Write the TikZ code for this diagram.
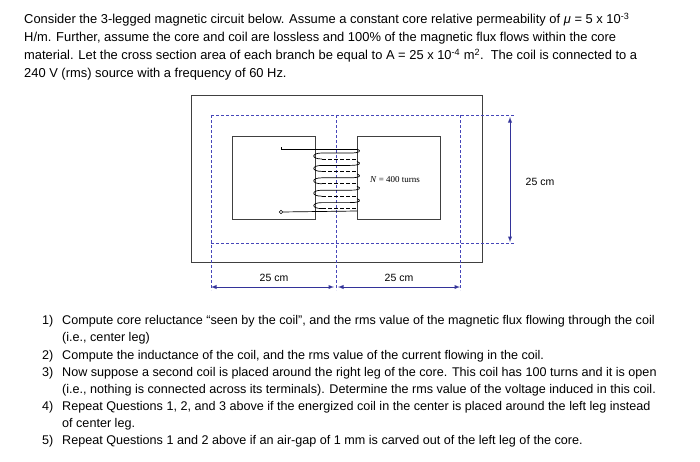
\documentclass[tikz,border=0pt]{standalone}
\usepackage{fontspec}
\setmainfont{Liberation Sans}
\newfontfamily\serifc{Liberation Serif}
\begin{document}
\begin{tikzpicture}[x=1pt,y=-1pt,
  txt/.style={anchor=west,inner sep=0pt,font=\fontsize{12.9}{15}\selectfont},
  qtxt/.style={anchor=west,inner sep=0pt,font=\fontsize{12.6}{15}\selectfont},
  core/.style={draw=black!75,line width=0.7pt},
  mean/.style={draw=blue!45!gray,dashed,dash pattern=on 3pt off 2pt,line width=0.6pt},
  dim/.style={draw=blue!50!gray!80!black,line width=0.9pt,-latex},
  lab/.style={font=\fontsize{10.5}{12}\selectfont}]
\useasboundingbox (0,0) rectangle (700,461);
\node[txt] (l1) at (24,20) {Consider the 3-legged magnetic circuit below. Assume a constant core relative permeability of \textit{μ} = 5 x 10\textsuperscript{-3}};
\node[txt] (l2) at (24,38) {H/m. Further, assume the core and coil are lossless and 100\% of the magnetic flux flows within the core};
\node[txt] (l3) at (24,56) {material. Let the cross section area of each branch be equal to A = 25 x 10\textsuperscript{-4} m\textsuperscript{2}.\ \ The coil is connected to a};
\node[txt] (l4) at (24,74) {240 V (rms) source with a frequency of 60 Hz.};
% core
\draw[core] (191,95) rectangle (482,262);
\draw[core] (232,136) rectangle (315,219);
\draw[core] (357,136) rectangle (440,219);
% mean path
\draw[mean] (211,115) -- (515,115);
\draw[mean] (211,243) -- (515,243);
\draw[mean] (211,115) -- (211,290);
\draw[mean] (336,115) -- (336,290);
\draw[mean] (460,115) -- (460,290);
% dims
\coordinate (vt) at (510,117); \coordinate (vb) at (510,242);
\draw[dim,latex-latex] (vt) -- (vb);
\node[lab] (v) at (540,182) {25 cm};
\coordinate (h1) at (211,287); \coordinate (h2) at (334,287);
\coordinate (h3) at (338,287); \coordinate (h4) at (460,287);
\draw[dim,latex-latex] (h1) -- (h2);
\draw[dim,latex-latex] (h3) -- (h4);
\node[lab] (hl1) at (274,278) {25 cm};
\node[lab] (hl2) at (399,278) {25 cm};
% coil
\node[circle,draw,inner sep=0pt,minimum size=3.5pt] (t2) at (281,212) {};
\coordinate (t1) at (281,149);
\draw[line width=0.7pt] (281,147) -- (t1) -- (357,149);
\draw[line width=0.7pt] (t2) -- (357,211);
\foreach \i in {0,...,4}{
  \pgfmathsetmacro\ya{149+12.4*\i}
  \draw[line width=0.7pt] (357,\ya) .. controls (362,\ya+2) and (360,\ya+4) .. (350,\ya+4) -- (322,\ya+4) .. controls (311,\ya+4) and (311,\ya+10) .. (322,\ya+10);
  \draw[line width=0.7pt,dashed,dash pattern=on 4pt off 2pt] (322,\ya+10) -- (357,\ya+10);
}
\node[font=\serifc\fontsize{9}{10}\selectfont] (n) at (395,180) {\textit{N} = 400 turns};
% questions
\foreach \n/\yy/\t in {
 1)/321/{Compute core reluctance ``seen by the coil'', and the rms value of the magnetic flux flowing through the coil},
 2)/356/{Compute the inductance of the coil, and the rms value of the current flowing in the coil.},
 3)/373/{Now suppose a second coil is placed around the right leg of the core. This coil has 100 turns and it is open},
 4)/407/{Repeat Questions 1, 2, and 3 above if the energized coil in the center is placed around the left leg instead},
 5)/441/{Repeat Questions 1 and 2 above if an air-gap of 1 mm is carved out of the left leg of the core.}}{
 \node[qtxt] at (42,\yy) {\n};
 \node[qtxt] at (62,\yy) {\t};
}
\node[qtxt] (c1) at (62,338) {(i.e., center leg)};
\node[qtxt] (c3) at (62,390) {(i.e., nothing is connected across its terminals). Determine the rms value of the voltage induced in this coil.};
\node[qtxt] (c4) at (62,424) {of center leg.};
\end{tikzpicture}
\end{document}
